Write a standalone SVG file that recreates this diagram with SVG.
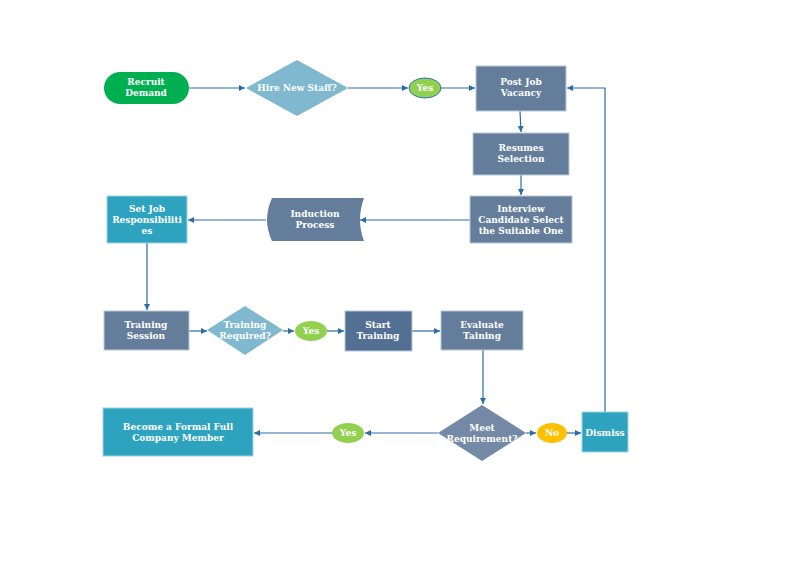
<svg xmlns="http://www.w3.org/2000/svg" width="800" height="566" viewBox="0 0 800 566">
<style>
text{font-family:"DejaVu Serif","Liberation Serif",serif;font-weight:bold;font-size:9px;fill:#fff;text-anchor:middle}
.p{fill:#647d9b;stroke:#b8c8d8;stroke-width:1}
.t{fill:#2ea3bf;stroke:#9fd3e0;stroke-width:1}
.c line,.c polyline{stroke:#2e6da4;stroke-width:1.2;fill:none;marker-end:url(#a)}
</style>
<defs><marker id="a" markerWidth="8" markerHeight="8" refX="6" refY="3" orient="auto" markerUnits="userSpaceOnUse"><path d="M0,0 L6,3 L0,6 Z" fill="#2e6da4"/></marker></defs>
<rect width="800" height="566" fill="#fff"/>
<g class="c">
<line x1="189" y1="88" x2="245" y2="88"/>
<line x1="348" y1="88" x2="408" y2="88"/>
<line x1="441" y1="88" x2="475" y2="88"/>
<line x1="520" y1="111" x2="521" y2="132"/>
<line x1="521" y1="175" x2="521" y2="195"/>
<line x1="470" y1="220" x2="360" y2="220"/>
<line x1="266" y1="220" x2="188" y2="220"/>
<line x1="147" y1="243" x2="147" y2="310"/>
<line x1="189" y1="331" x2="207" y2="331"/>
<line x1="283" y1="331" x2="294" y2="331"/>
<line x1="327" y1="331" x2="344" y2="331"/>
<line x1="412" y1="331" x2="440" y2="331"/>
<line x1="483" y1="350" x2="483" y2="404"/>
<line x1="526" y1="433" x2="536" y2="433"/>
<line x1="567" y1="433" x2="581" y2="433"/>
<line x1="438" y1="433" x2="365" y2="433"/>
<line x1="332" y1="433" x2="254" y2="433"/>
<polyline points="605,412 605,88 567,88"/>
</g>
<g id="recruit"><rect x="104" y="72" width="85" height="32" rx="16" fill="#00b050"/><text x="146" y="85">Recruit</text><text x="146" y="96">Demand</text></g>
<g id="hire"><polygon points="246,88 297,60 348,88 297,116" fill="#7fb8cf"/><text x="297" y="91">Hire New Staff?</text></g>
<g id="yes1"><ellipse cx="425" cy="88" rx="16" ry="10" fill="#92d050" stroke="#2e75b6"/><text x="425" y="91">Yes</text></g>
<g id="post"><rect class="p" x="476" y="66" width="90" height="45"/><text x="521" y="85">Post Job</text><text x="521" y="96">Vacancy</text></g>
<g id="resumes"><rect class="p" x="473" y="133" width="96" height="42"/><text x="521" y="151">Resumes</text><text x="521" y="162">Selection</text></g>
<g id="interview"><rect class="p" x="470" y="196" width="102" height="47"/><text x="521" y="212">Interview</text><text x="521" y="223">Candidate Select</text><text x="521" y="234">the Suitable One</text></g>
<g id="induction"><path d="M272,198 L364,198 Q356,220 364,241 L272,241 Q262,220 272,198 Z" fill="#647d9b"/><text x="315" y="217">Induction</text><text x="315" y="228">Process</text></g>
<g id="setjob"><rect class="t" x="107" y="196" width="80" height="47"/><text x="147" y="212">Set Job</text><text x="147" y="223">Responsibiliti</text><text x="147" y="234">es</text></g>
<g id="session"><rect class="p" x="104" y="311" width="85" height="39"/><text x="146" y="328">Training</text><text x="146" y="339">Session</text></g>
<g id="required"><polygon points="207,330 245,306 283,330 245,355" fill="#7fb8cf"/><text x="245" y="328">Training</text><text x="245" y="339">Required?</text></g>
<g id="yes2"><ellipse cx="311" cy="331" rx="16" ry="10" fill="#92d050"/><text x="311" y="334">Yes</text></g>
<g id="start"><rect x="345" y="311" width="67" height="40" fill="#536f93" stroke="#b8c8d8"/><text x="378" y="328">Start</text><text x="378" y="339">Training</text></g>
<g id="evaluate"><rect class="p" x="441" y="311" width="82" height="39"/><text x="482" y="328">Evaluate</text><text x="482" y="339">Taining</text></g>
<g id="meet"><polygon points="438,433 482,405 526,433 482,461" fill="#7389a5"/><text x="482" y="431">Meet</text><text x="482" y="442">Requirement?</text></g>
<g id="no"><ellipse cx="552" cy="433" rx="15" ry="10" fill="#ffc000"/><text x="552" y="436">No</text></g>
<g id="dismiss"><rect class="t" x="582" y="412" width="46" height="40"/><text x="605" y="436">Dismiss</text></g>
<g id="yes3"><ellipse cx="348" cy="433" rx="16" ry="10" fill="#92d050"/><text x="348" y="436">Yes</text></g>
<g id="become"><rect class="t" x="103" y="408" width="150" height="48"/><text x="178" y="430">Become a Formal Full</text><text x="178" y="441">Company Member</text></g>
</svg>
